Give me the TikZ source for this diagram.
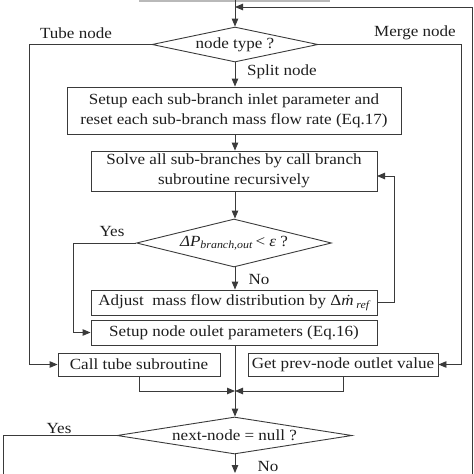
\documentclass[tikz,border=0pt]{standalone}
\usepackage{fontspec}
\setmainfont{Liberation Serif}[FakeStretch=1.1]
\usetikzlibrary{shapes.geometric,arrows.meta,calc}
\definecolor{ln}{HTML}{3A3A3A}
\definecolor{tx}{HTML}{1E1E1E}
\tikzset{
  box/.style={draw=ln,line width=0.9pt,rectangle,inner sep=0pt,align=center,text=tx,font=\fontsize{15.5}{20}\selectfont},
  dia/.style={draw=ln,line width=0.9pt,diamond,aspect=6,inner sep=0pt,text=tx,font=\fontsize{15.5}{16}\selectfont},
  lbl/.style={text=tx,font=\fontsize{15.5}{16}\selectfont,inner sep=0pt},
  conn/.style={draw=ln,line width=0.9pt},
  arr/.style={conn,-{Triangle[length=8pt,width=6.5pt]}},
}
\begin{document}
\begin{tikzpicture}[x=1pt,y=-1pt]
\useasboundingbox (0,0) rectangle (474,474);
% top partial gray box
\draw[gray!55,line width=2pt] (139,0.5) -- (330,0.5);
% nodes
\node[dia,minimum width=166pt,minimum height=35pt] (d1) at (235,44.5) {node type ?};
\node[box,minimum width=334pt,minimum height=47pt] (b1) at (234,110.5) {Setup each sub-branch inlet parameter and\\reset each sub-branch mass flow rate (Eq.17)};
\node[box,minimum width=286pt,minimum height=40pt] (b2) at (234,171) {Solve all sub-branches by call branch\\subroutine recursively};
\node[dia,minimum width=188pt,minimum height=48pt] (d2) at (234,243) {{\itshape ΔP}\textsubscript{\itshape branch,out}\,< {\itshape ε} ?};
\node[box,minimum width=286pt,minimum height=25pt] (b3) at (234,302.5) {Adjust\ \ mass flow distribution by Δ{\itshape\.{m}}\,\textsubscript{\itshape ref}};
\node[box,minimum width=286pt,minimum height=25pt] (b4) at (234,332.5) {Setup node oulet parameters (Eq.16)};
\node[box,minimum width=162pt,minimum height=23pt] (b5) at (139,364.5) {Call tube subroutine};
\node[box,minimum width=190pt,minimum height=23pt] (b6) at (343,364.5) {Get prev-node outlet value};
\node[dia,minimum width=235pt,minimum height=37pt] (d3) at (234.5,435.5) {next-node = null ?};
% labels
\node[lbl] (lt) at (76,33) {Tube node};
\node[lbl] (lm) at (415,33) {Merge node};
\node[lbl] (ls) at (282,72) {Split node};
\node[lbl] (ly1) at (112,231) {Yes};
\node[lbl] (ln1) at (259,279) {No};
\node[lbl] (ly2) at (59,428) {Yes};
\node[lbl] (ln2) at (268,466) {No};
% coordinates
\coordinate (top) at (235,0);
\coordinate (fbin) at (235,7);
\coordinate (rbot) at (472,474);
\coordinate (tl) at (29,364.5);
\coordinate (tr) at (461,364.5);
\coordinate (yl) at (73,332.5);
\coordinate (lp) at (394,302.5);
\coordinate (b2in) at (377,176);
\coordinate (mj) at (235,391);
\coordinate (lbot) at (3,474);
\coordinate (bot) at (235,474);
% connectors
\draw[arr] (top) -- (d1.north);
\draw[arr] (rbot) |- (fbin);
\draw[arr] (d1.west) -| (tl) -- (b5.west);
\draw[arr] (d1.east) -| (tr) -- (b6.east);
\draw[arr] (d1.south) -- (b1.north -| d1.south);
\draw[arr] (b1.south -| d1.south) -- (b2.north -| d1.south);
\draw[arr] (b2.south -| d1.south) -- (d2.north -| d1.south);
\draw[arr] (d2.west) -| (yl) -- (b4.west);
\draw[arr] (d2.south -| d1.south) -- (b3.north -| d1.south);
\draw[arr] (b3.east) -| (lp) |- (b2in);
\draw[arr] (b4.south -| d1.south) -- (d3.north -| d1.south);
\draw[arr] (b5.south) |- (mj);
\draw[arr] (b6.south) |- (mj);
\draw[conn] (d3.west) -| (lbot);
\draw[arr] (d3.south -| d1.south) -- ($(bot)+(0,-1)$);
\end{tikzpicture}
\end{document}
